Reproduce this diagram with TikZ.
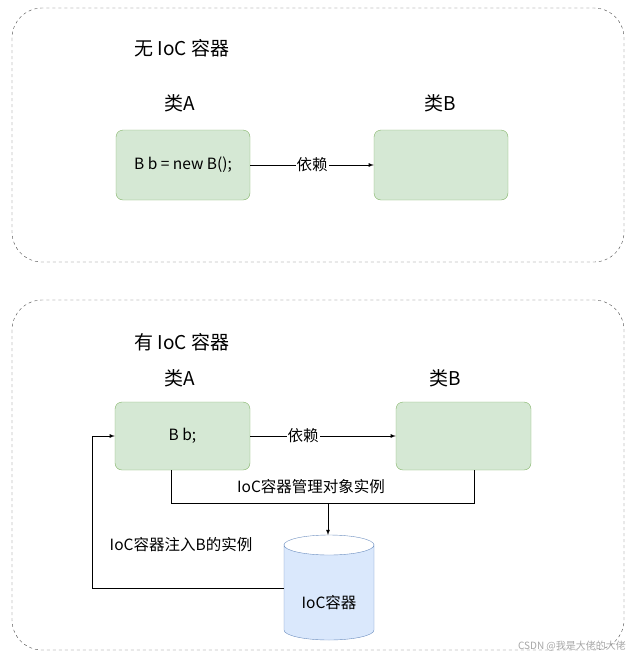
\documentclass[tikz,border=0pt]{standalone}
\usepackage{fontspec}
\setmainfont{Noto Sans CJK SC}
\definecolor{gfill}{HTML}{D5E8D4}
\definecolor{gdraw}{HTML}{82B366}
\definecolor{bfill}{HTML}{DAE8FC}
\definecolor{bdraw}{HTML}{6C8EBF}
\begin{document}
\begin{tikzpicture}[x=1pt,y=-1pt,
  cont/.style={draw=black!70,dashed,rounded corners=30pt},
  cls/.style={draw=gdraw,fill=gfill,rounded corners=7pt},
  lbl/.style={font=\fontsize{15.5}{17}\selectfont},
  ttl/.style={font=\fontsize{19}{21}\selectfont},
  arr/.style={-latex,thick},
  ln/.style={thick}]
\useasboundingbox (0,0) rectangle (629,657);
\draw[cont] (12,8) rectangle (624,262);
\draw[cont] (12,300) rectangle (624,650);
% top
\node[ttl] (t1) at (182,48) {无 IoC 容器};
\node[ttl] (la1) at (180,103) {类A};
\node[ttl] (lb1) at (440,103) {类B};
\draw[cls] (116,130) rectangle (250,200);
\node[lbl,minimum width=134pt,minimum height=70pt] (a1) at (183,165) {B b = new B();};
\draw[cls] (374,130) rectangle (508,200);
\node[minimum width=134pt,minimum height=70pt] (b1) at (441,165) {};
\draw[arr] (a1) -- node[lbl,fill=white,inner sep=1pt] {依赖} (b1);
% bottom
\node[ttl] (t2) at (182,342) {有 IoC 容器};
\node[ttl] (la2) at (180,378) {类A};
\node[ttl] (lb2) at (445,378) {类B};
\draw[cls] (115,402) rectangle (250,470);
\node[lbl,minimum width=135pt,minimum height=68pt,inner sep=0pt] (a2) at (182.5,436) {B b;};
\draw[cls] (396,402) rectangle (531,470);
\node[minimum width=135pt,minimum height=68pt,inner sep=0pt] (b2) at (463.5,436) {};
\draw[arr] (a2) -- node[lbl,fill=white,inner sep=1pt,xshift=-20pt] {依赖} (b2);
% cylinder
\draw[draw=bdraw,fill=bfill] (284,545) -- (284,630) arc[start angle=180,end angle=360,x radius=45pt,y radius=10pt] -- (374,545) arc[start angle=0,end angle=-180,x radius=45pt,y radius=10pt] -- cycle;
\draw[draw=bdraw] (284,545) arc[start angle=180,end angle=360,x radius=45pt,y radius=-10pt];
\node[lbl,minimum width=90pt,minimum height=105pt,inner sep=0pt] (c) at (329,587.5) {};
\node[lbl] (ct) at (329,603) {IoC容器};
\coordinate (j) at (328,503);
\draw[ln] (171,470) |- (474,503) -- (474,470);
\node[lbl] (m) at (311,487) {IoC容器管理对象实例};
\draw[arr] (j) -- (328,535);
\draw[arr] (284,588) -| (92,436) -- (a2.west);
\node[lbl] (inj) at (181,545) {IoC容器注入B的实例};
\node[font=\fontsize{10}{11}\selectfont,text=black!35] (wm) at (572,646) {CSDN @我是大佬的大佬};
\end{tikzpicture}
\end{document}
